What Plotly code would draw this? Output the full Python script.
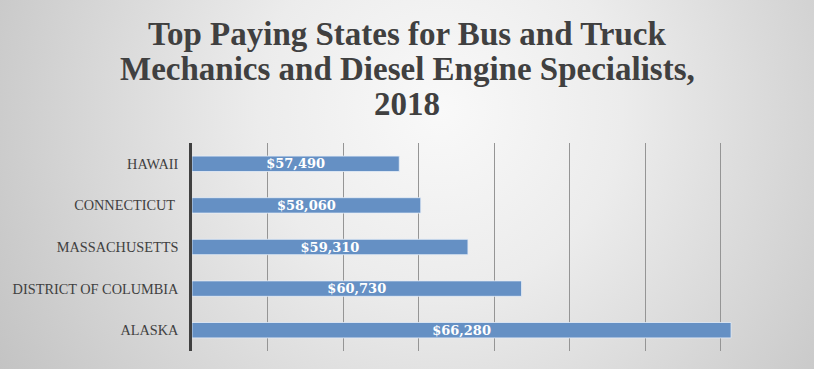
import base64
import plotly.graph_objects as go

states = ["ALASKA", "DISTRICT OF COLUMBIA", "MASSACHUSETTS", "CONNECTICUT ", "HAWAII"]
wages = [66280, 60730, 59310, 58060, 57490]
wage_labels = ["$66,280", "$60,730", "$59,310", "$58,060", "$57,490"]
title_lines = ["Top Paying States for Bus and Truck",
               "Mechanics and Diesel Engine Specialists,",
               "2018"]
AXIS_MIN, AXIS_MAX, AXIS_STEP = 52000, 68000, 2000

W, H = 814, 369
ML, MR, MT, MB = 192, 18, 143, 18
PW, PH = W - ML - MR, H - MT - MB

svg = f'''<svg xmlns="http://www.w3.org/2000/svg" width="{W}" height="{H}" viewBox="0 0 {W} {H}" preserveAspectRatio="none">
<defs><radialGradient id="g" gradientUnits="userSpaceOnUse" cx="440" cy="110" r="520">
<stop offset="0" stop-color="#f9f9f9"/><stop offset="0.35" stop-color="#ececec"/><stop offset="1" stop-color="#c2c2c2"/>
</radialGradient></defs><rect width="{W}" height="{H}" fill="url(#g)"/></svg>'''
src = "data:image/svg+xml;base64," + base64.b64encode(svg.encode()).decode()

fig = go.Figure(go.Bar(
    y=states, x=[w - AXIS_MIN for w in wages], base=AXIS_MIN, orientation="h",
    text=wage_labels, textposition="inside", insidetextanchor="middle",
    constraintext="none",
    textfont=dict(family="DejaVu Serif", size=13, color="white", weight="bold"),
    marker=dict(color="#6590c4", line=dict(color="rgba(230,238,248,0.8)", width=1)),
    hoverinfo="skip",
))


def py(pix):
    return 1 + (MT - pix) / PH


annotations = []
for i, line in enumerate(title_lines):
    annotations.append(dict(
        text=f"<b>{line}</b>", xref="paper", yref="paper",
        x=(407 - ML) / PW, y=py(34 + 35 * i), xanchor="center", yanchor="middle",
        showarrow=False,
        font=dict(family="Liberation Serif", size=33, color="#404040"),
    ))

fig.update_layout(
    width=W, height=H,
    margin=dict(l=ML, r=MR, t=MT, b=MB, autoexpand=False),
    paper_bgcolor="rgba(0,0,0,0)", plot_bgcolor="rgba(0,0,0,0)",
    bargap=0.63,
    showlegend=False,
    annotations=annotations,
    images=[dict(source=src, xref="paper", yref="paper",
                 x=-ML / PW, y=1 + MT / PH, sizex=W / PW, sizey=H / PH,
                 xanchor="left", yanchor="top", sizing="stretch", layer="below")],
)
fig.update_xaxes(range=[AXIS_MIN, AXIS_MAX], dtick=AXIS_STEP, tick0=AXIS_MIN, showgrid=True,
                 gridcolor="#959595", gridwidth=1, showticklabels=False,
                 zeroline=False, showline=False, automargin=False)
fig.update_yaxes(showline=True, linecolor="#404040", linewidth=2.5,
                 ticks="", ticklabelstandoff=8, automargin=False,
                 tickfont=dict(family="Liberation Serif", size=14.3, color="#404040"),
                 categoryorder="array", categoryarray=states)

fig.write_html("out.html", config={"displayModeBar": False})
with open("out.html", encoding="utf-8") as f:
    html = f.read()
html = html.replace("<head>", "<head><style>html,body{margin:0;padding:0;overflow:hidden;}</style>", 1)
with open("out.html", "w", encoding="utf-8") as f:
    f.write(html)
